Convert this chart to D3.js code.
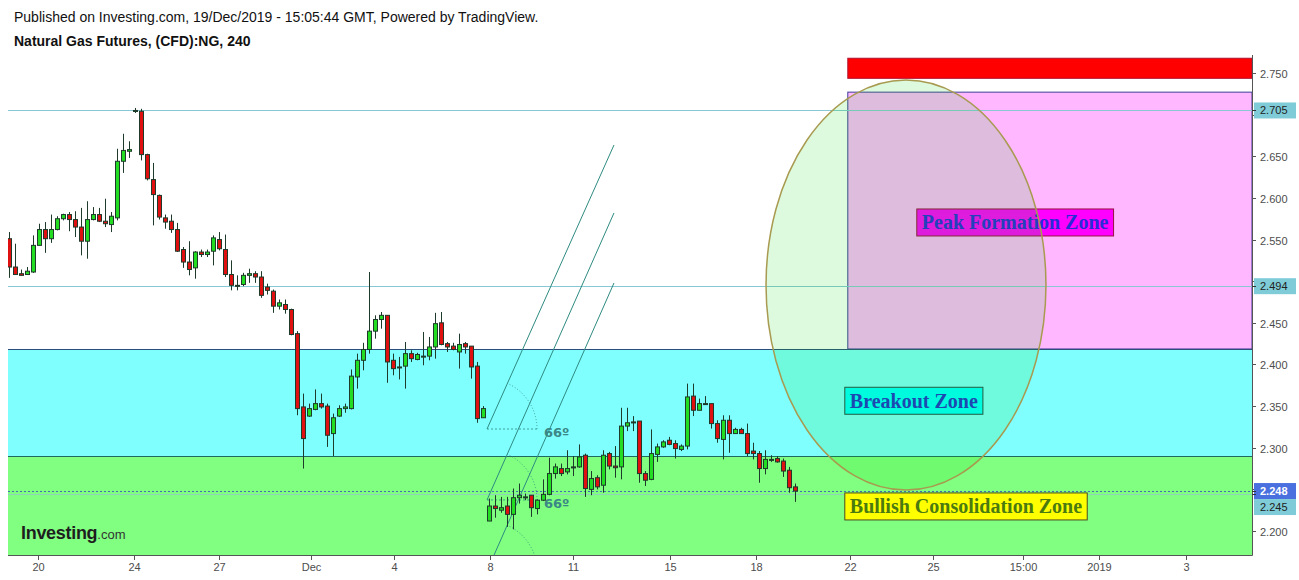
<!DOCTYPE html>
<html><head><meta charset="utf-8">
<script src="https://cdn.jsdelivr.net/npm/d3@7"></script>
<style>
html,body{margin:0;padding:0;background:#fff;}
svg{display:block;font-family:Arial,"Liberation Sans",sans-serif;}
</style></head>
<body><svg id="c" width="1299" height="580"></svg>
<script>
// ---------------- DATA ----------------
const opens  = [2.551,2.517,2.509,2.508,2.511,2.543,2.562,2.551,2.562,2.575,2.580,2.574,2.565,2.548,2.574,2.580,2.572,2.568,2.576,2.644,2.656,2.704,2.704,2.652,2.622,2.603,2.576,2.572,2.562,2.538,2.523,2.516,2.535,2.532,2.536,2.550,2.538,2.508,2.495,2.496,2.507,2.509,2.505,2.493,2.488,2.470,2.472,2.466,2.437,2.349,2.338,2.346,2.353,2.350,2.317,2.338,2.347,2.347,2.385,2.405,2.418,2.440,2.454,2.459,2.405,2.397,2.398,2.413,2.406,2.410,2.410,2.421,2.450,2.425,2.422,2.415,2.425,2.422,2.398,2.336,2.212,2.230,2.225,2.230,2.220,2.240,2.241,2.243,2.227,2.237,2.244,2.269,2.275,2.271,2.277,2.277,2.291,2.250,2.264,2.255,2.293,2.278,2.277,2.326,2.331,2.332,2.269,2.262,2.292,2.301,2.309,2.305,2.298,2.302,2.362,2.345,2.353,2.353,2.329,2.310,2.333,2.317,2.322,2.317,2.296,2.293,2.275,2.286,2.287,2.284,2.273,2.253];
const highs  = [2.559,2.545,2.514,2.517,2.555,2.569,2.571,2.580,2.578,2.581,2.583,2.584,2.588,2.596,2.589,2.588,2.599,2.583,2.659,2.677,2.668,2.708,2.707,2.653,2.642,2.604,2.580,2.580,2.570,2.541,2.548,2.536,2.538,2.538,2.555,2.559,2.556,2.525,2.507,2.510,2.515,2.512,2.512,2.497,2.490,2.478,2.478,2.467,2.440,2.365,2.353,2.370,2.365,2.353,2.341,2.351,2.353,2.394,2.413,2.426,2.511,2.459,2.463,2.459,2.413,2.409,2.427,2.417,2.414,2.439,2.433,2.462,2.463,2.427,2.426,2.437,2.427,2.422,2.403,2.350,2.239,2.243,2.241,2.241,2.251,2.257,2.245,2.243,2.238,2.262,2.288,2.281,2.281,2.297,2.290,2.304,2.293,2.272,2.267,2.297,2.295,2.302,2.348,2.348,2.338,2.332,2.272,2.322,2.305,2.309,2.313,2.309,2.304,2.377,2.377,2.359,2.362,2.353,2.333,2.339,2.339,2.324,2.324,2.329,2.306,2.296,2.297,2.291,2.290,2.287,2.277,2.257];
const lows   = [2.504,2.508,2.507,2.508,2.510,2.543,2.534,2.546,2.561,2.573,2.560,2.553,2.531,2.527,2.573,2.571,2.565,2.559,2.573,2.630,2.648,2.702,2.645,2.621,2.567,2.574,2.563,2.558,2.535,2.516,2.507,2.503,2.529,2.529,2.519,2.537,2.505,2.489,2.489,2.494,2.498,2.498,2.480,2.484,2.462,2.466,2.461,2.435,2.339,2.275,2.337,2.345,2.347,2.301,2.290,2.337,2.342,2.346,2.371,2.393,2.413,2.431,2.443,2.378,2.387,2.382,2.371,2.403,2.405,2.399,2.405,2.407,2.423,2.415,2.417,2.395,2.413,2.383,2.330,2.336,2.212,2.216,2.222,2.205,2.202,2.233,2.237,2.217,2.220,2.236,2.243,2.263,2.266,2.268,2.266,2.276,2.241,2.243,2.250,2.246,2.274,2.264,2.262,2.320,2.320,2.258,2.254,2.261,2.283,2.300,2.303,2.287,2.296,2.298,2.338,2.345,2.352,2.323,2.306,2.286,2.294,2.317,2.317,2.290,2.286,2.258,2.268,2.283,2.282,2.265,2.246,2.235];
const closes = [2.517,2.508,2.507,2.512,2.543,2.562,2.551,2.562,2.575,2.580,2.574,2.565,2.548,2.574,2.580,2.572,2.569,2.578,2.644,2.657,2.658,2.705,2.652,2.623,2.604,2.577,2.571,2.562,2.536,2.523,2.514,2.535,2.532,2.535,2.552,2.539,2.508,2.495,2.494,2.507,2.509,2.505,2.483,2.489,2.470,2.474,2.466,2.436,2.347,2.311,2.347,2.353,2.349,2.315,2.336,2.347,2.349,2.386,2.405,2.418,2.440,2.454,2.459,2.403,2.395,2.396,2.413,2.407,2.412,2.410,2.421,2.449,2.424,2.421,2.418,2.424,2.421,2.397,2.335,2.347,2.230,2.227,2.228,2.220,2.240,2.243,2.241,2.228,2.237,2.244,2.269,2.277,2.269,2.275,2.277,2.289,2.251,2.263,2.253,2.291,2.278,2.276,2.326,2.330,2.330,2.269,2.261,2.293,2.301,2.307,2.304,2.299,2.302,2.361,2.345,2.353,2.353,2.329,2.311,2.333,2.317,2.322,2.317,2.293,2.293,2.275,2.286,2.286,2.283,2.272,2.252,2.248];

const xTickLabels = ["20","24","27","Dec","4","8","11","15","18","22","25","15:00","2019","3"];
const xTickIdx    = [4.8,20.8,35,50.3,64.2,80.2,94,110.2,124.5,140.2,154,169,181.7,196.2];
const yTicks = [2.20,2.25,2.30,2.35,2.40,2.45,2.50,2.55,2.60,2.65,2.70,2.75];

const hLevels = [2.705, 2.494];              // horizontal support/resistance lines
const consolidationZone = [2.1712, 2.2895];   // green
const breakoutZone      = [2.2895, 2.4186];   // cyan
const peakZone  = {from: 139.8, lo: 2.4186, hi: 2.727};
const redZone   = {from: 139.8, lo: 2.7436, hi: 2.7677};
const ellipseZ  = {cx: 149.5, cy: 2.4954, rx: 23.33, ry: 0.2462};
const fanStart  = [79.67, 79.67, 79.67];
const fanEnd    = [100.83, 100.83, 100.83];
const fanP0     = [2.3225, 2.2373, 2.1520];
const fanP1     = [2.6635, 2.5819, 2.4978];
const lastPrice = 2.248, bidPrice = 2.245;
const zoneLabels = [
  {text:"Peak Formation Zone", idx:151.3, p:2.5705, fill:"#ff00ff", stroke:"#9a1040", color:"#2a2ad6"},
  {text:"Breakout Zone", idx:139.3, p:2.3564, fill:"#00ffff", stroke:"#2a4a4a", color:"#2233cc"},
  {text:"Bullish Consolidation Zone", idx:139.3, p:2.2295, fill:"#ffff00", stroke:"#4a4a20", color:"#4a7a10"}
];

// ---------------- CHART ----------------
const L=8, R=1252, T=55, B=555;
const svg = d3.select("#c");
const x = d3.scaleLinear().domain([-1/6, (R-9)/6]).range([L, R]);
const y = d3.scaleLinear().domain([2.1712, 2.7716]).range([B, T]);

svg.append("rect").attr("width",1299).attr("height",580).attr("fill","#fff");
svg.append("defs").append("clipPath").attr("id","pc")
  .append("rect").attr("x",L).attr("y",T).attr("width",R-L).attr("height",B-T);
const g = svg.append("g").attr("clip-path","url(#pc)");

// zones
g.append("rect").attr("x",L).attr("width",R-L)
  .attr("y",y(consolidationZone[1])).attr("height",y(consolidationZone[0])-y(consolidationZone[1]))
  .attr("fill","#80ff80");
g.append("rect").attr("x",L).attr("width",R-L)
  .attr("y",y(breakoutZone[1])).attr("height",y(breakoutZone[0])-y(breakoutZone[1]))
  .attr("fill","#80ffff");
g.append("rect").attr("x",x(peakZone.from)).attr("width",R-x(peakZone.from))
  .attr("y",y(peakZone.hi)).attr("height",y(peakZone.lo)-y(peakZone.hi))
  .attr("fill","#ffb8ff").attr("stroke","#3d3d99").attr("stroke-width",1);
g.append("rect").attr("x",x(redZone.from)).attr("width",R-x(redZone.from))
  .attr("y",y(redZone.hi)).attr("height",y(redZone.lo)-y(redZone.hi))
  .attr("fill","#ff0000").attr("stroke","#b01030").attr("stroke-width",1);
[breakoutZone[1], breakoutZone[0]].forEach((v,k)=>{
  g.append("line").attr("x1",L).attr("x2",R).attr("y1",Math.round(y(v))+0.5).attr("y2",Math.round(y(v))+0.5)
   .attr("stroke", k===0 ? "#2b4f7a" : "#1f6a60").attr("stroke-width",1);
});

// horizontal levels
hLevels.forEach(v=>{
  g.append("line").attr("x1",L).attr("x2",R).attr("y1",Math.round(y(v))+0.5).attr("y2",Math.round(y(v))+0.5)
   .attr("stroke","#88c8d4").attr("stroke-width",1);
});
g.append("line").attr("x1",L).attr("x2",R).attr("y1",Math.round(y(bidPrice))+0.5).attr("y2",Math.round(y(bidPrice))+0.5)
 .attr("stroke","#8fd4b8").attr("stroke-width",1);
g.append("line").attr("x1",L).attr("x2",R).attr("y1",Math.round(y(lastPrice))+0.5).attr("y2",Math.round(y(lastPrice))+0.5)
 .attr("stroke","#3f6fb0").attr("stroke-width",1).attr("stroke-dasharray","2,2");

// fan lines with angle markers
const fanCol = "#2e8a80";
fanStart.forEach((s,k)=>{
  const x0=x(s), y0=y(fanP0[k]), x1=x(fanEnd[k]), y1=y(fanP1[k]);
  g.append("line").attr("x1",x0).attr("y1",y0).attr("x2",x1).attr("y2",y1)
   .attr("stroke",fanCol).attr("stroke-width",1);
  const ang = Math.atan2(y0-y1, x1-x0);
  const r = 50;
  g.append("line").attr("x1",x0).attr("y1",y0).attr("x2",x0+r).attr("y2",y0)
   .attr("stroke",fanCol).attr("stroke-width",1).attr("stroke-dasharray","2,2").attr("opacity",0.8);
  const arc = d3.path();
  arc.arc(x0,y0,r,0,-ang,true);
  g.append("path").attr("d",arc.toString()).attr("fill","none")
   .attr("stroke",fanCol).attr("stroke-width",1).attr("stroke-dasharray","1,2").attr("opacity",0.8);
  if (y0 + 8 < B) {
    g.append("text").attr("x",x0+r+7).attr("y",y0+8).text(Math.round(ang*180/Math.PI)+"º")
     .attr("fill","#3b8686").attr("font-family","'DejaVu Sans',sans-serif").attr("font-weight","bold").attr("font-size",13);
  }
});

// candles
const candles = d3.range(opens.length).map(i=>({i,o:opens[i],h:highs[i],l:lows[i],c:closes[i]}));
const cg = g.append("g");
const edge = "#1d3a2a";
cg.selectAll("line.w").data(candles).join("line")
  .attr("x1",d=>x(d.i)+0.5).attr("x2",d=>x(d.i)+0.5)
  .attr("y1",d=>y(d.h)).attr("y2",d=>y(d.l))
  .attr("stroke",edge).attr("stroke-width",1);
cg.selectAll("rect.b").data(candles).join("rect")
  .attr("x",d=>x(d.i)-1.5).attr("width",4)
  .attr("y",d=>y(Math.max(d.o,d.c)))
  .attr("height",d=>Math.max(1,Math.abs(y(d.o)-y(d.c))))
  .attr("fill",d=>d.c>=d.o ? "#22dd22" : "#e01010")
  .attr("stroke",edge).attr("stroke-width",1);

// zone labels
const lg = svg.append("g");
zoneLabels.forEach(d=>{
  const grp = lg.append("g");
  const t = grp.append("text").attr("x",x(d.idx)+5).attr("y",y(d.p)+7)
    .attr("font-family","'Liberation Serif','Times New Roman',serif").attr("font-weight","bold")
    .attr("font-size",20).attr("fill",d.color).text(d.text);
  const bb = t.node().getBBox();
  grp.insert("rect","text").attr("x",x(d.idx)).attr("y",y(d.p)-13.5)
    .attr("width",bb.width+10).attr("height",27)
    .attr("fill",d.fill).attr("stroke",d.stroke).attr("stroke-width",1);
});

// ellipse
svg.append("ellipse").attr("clip-path","url(#pc)")
  .attr("cx",x(ellipseZ.cx)).attr("cy",y(ellipseZ.cy))
  .attr("rx",x(ellipseZ.cx+ellipseZ.rx)-x(ellipseZ.cx))
  .attr("ry",y(ellipseZ.cy-ellipseZ.ry)-y(ellipseZ.cy))
  .attr("fill","rgba(0,220,0,0.13)").attr("stroke","#a89a50").attr("stroke-width",1.5);

// axes
svg.append("line").attr("x1",L).attr("x2",R+0.5).attr("y1",B+0.5).attr("y2",B+0.5).attr("stroke","#555").attr("stroke-width",1);
svg.append("line").attr("x1",R+0.5).attr("x2",R+0.5).attr("y1",T).attr("y2",B+0.5).attr("stroke","#555").attr("stroke-width",1);

const xa = svg.append("g");
xTickIdx.forEach((v,k)=>{
  const px = Math.round(x(v))+0.5;
  xa.append("line").attr("x1",px).attr("x2",px).attr("y1",B).attr("y2",B+5).attr("stroke","#555");
  xa.append("text").attr("x",px).attr("y",B+16).attr("text-anchor","middle")
    .attr("font-size",11).attr("fill","#4d4d4d").text(xTickLabels[k]);
});

// price tag positions (bid tag pushed below the last-price tag)
const tags = [
  {v:hLevels[0], cy:y(hLevels[0]), fill:"#7fccd8", col:"#222", bold:false},
  {v:hLevels[1], cy:y(hLevels[1]), fill:"#7fccd8", col:"#222", bold:false},
  {v:lastPrice, cy:y(lastPrice), fill:"#4a70e0", col:"#fff", bold:true},
  {v:bidPrice, cy:y(lastPrice)+16, fill:"#7fccd8", col:"#222", bold:false}
];

const ya = svg.append("g");
yTicks.forEach(v=>{
  const py = Math.round(y(v))+0.5;
  ya.append("line").attr("x1",R).attr("x2",R+4).attr("y1",py).attr("y2",py).attr("stroke","#555");
  const covered = tags.some(t=>Math.abs(t.cy-py) < 13);
  if (!covered) ya.append("text").attr("x",R+8).attr("y",py+4).attr("font-size",11).attr("fill","#4d4d4d").text(v.toFixed(3));
});

tags.forEach(d=>{
  const t = svg.append("g");
  t.append("rect").attr("x",R+2).attr("y",d.cy-8).attr("width",42).attr("height",16).attr("fill",d.fill);
  t.append("line").attr("x1",R).attr("x2",R+4).attr("y1",Math.round(y(d.v))+0.5).attr("y2",Math.round(y(d.v))+0.5).attr("stroke","#333");
  t.append("text").attr("x",R+8).attr("y",d.cy+4).attr("font-size",11).attr("fill",d.col)
    .attr("font-weight",d.bold?"bold":"normal").text(d.v.toFixed(3));
});

// header
svg.append("text").attr("x",14).attr("y",22).attr("font-size",14).attr("fill","#111")
  .text("Published on Investing.com, 19/Dec/2019 - 15:05:44 GMT, Powered by TradingView.");
svg.append("text").attr("x",14).attr("y",46).attr("font-size",14).attr("font-weight","bold").attr("fill","#111")
  .text("Natural Gas Futures, (CFD):NG, 240");

// logo
const logo = svg.append("text").attr("x",21).attr("y",539).attr("fill","#1e1e1e");
logo.append("tspan").attr("font-size",18).attr("font-weight","bold").attr("letter-spacing","-0.3").text("Investing");
logo.append("tspan").attr("font-size",13).attr("fill","#333").text(".com");
</script></body></html>
